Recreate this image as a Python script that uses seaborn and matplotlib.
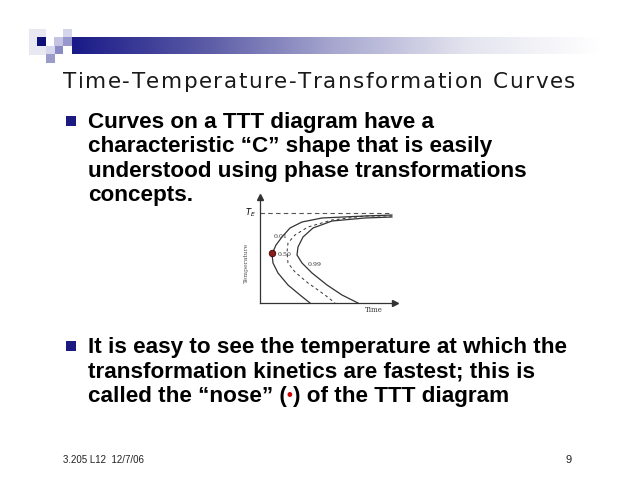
import numpy as np
import pandas as pd
import matplotlib
matplotlib.use("Agg")
import matplotlib.pyplot as plt
import seaborn as sns

# curve data (time units, temperature units; T_E = 90)
t_001 = [132, 105, 62, 42, 30, 22, 16, 12, 13, 18, 28, 40, 50]
T_001 = [88, 87, 85, 81, 75, 66, 58, 49, 40, 30, 18, 8, 0]
t_050 = [132, 105, 72, 48, 35, 28, 27, 28, 35, 48, 65, 75]
T_050 = [87, 87, 83, 76, 68, 60, 51, 40, 31, 20, 8, 0]
t_099 = [132, 105, 72, 53, 43, 38, 37, 42, 52, 67, 82, 98]
T_099 = [86, 85, 82, 75, 66, 56, 48, 40, 30, 18, 8, 0]
T_E = 90
nose = (12, 50)
curve_labels = ["0.01", "0.50", "0.99"]
label_pos = [(14, 67), (18, 49), (48, 38)]

title = "Time-Temperature-Transformation Curves"
bullet1 = ["Curves on a TTT diagram have a",
           "characteristic \u201cC\u201d shape that is easily",
           "understood using phase transformations",
           "concepts."]
bullet2 = ["It is easy to see the temperature at which the",
           "transformation kinetics are fastest; this is"]
bullet2_last = ["called the \u201cnose\u201d (", "\u2022", ") of the TTT diagram"]
footer_left = "3.205 L12  12/7/06"
footer_right = "9"

W, H = 638, 493
fig = plt.figure(figsize=(W / 100, H / 100), dpi=100)
bg = fig.add_axes([0, 0, 1, 1])
bg.axis("off")

# header decoration
squares = [(29, 29, 17, 26, "#e8e8f3"), (37, 37, 9, 9, "#10107a"),
           (54, 37, 9, 9, "#c4c4e2"), (63, 29, 9, 8, "#d4d4ea"),
           (63, 37, 9, 9, "#9898cc"), (46, 46, 9, 8, "#d6d6ec"),
           (55, 46, 8, 8, "#8a8ac4"), (46, 54, 9, 9, "#9c9ccb")]
for x, y, w, h, c in squares:
    bg.add_patch(plt.Rectangle((x, y), w, h, color=c, lw=0))
grad = np.linspace(0, 1, 256)[None, :]
cmap = matplotlib.colors.LinearSegmentedColormap.from_list(
    "bar", [(0, "#1a1a88"), (0.25, "#5a5aa6"), (0.5, "#a8a8d0"),
            (0.75, "#e4e4ef"), (1, "#ffffff")])
bg.imshow(grad, cmap=cmap, extent=(72, 600, 54, 37), aspect="auto")
bg.set_xlim(0, W)
bg.set_ylim(H, 0)

renderer = fig.canvas.get_renderer()

# title with wide letter spacing
x0 = 63
for ch in title:
    t = bg.text(x0, 88, ch, fontsize=15.5, family="DejaVu Sans", color="#1a1a1a")
    x0 += t.get_window_extent(renderer=renderer).width + 1.5

bold = dict(fontsize=16.2, family="Liberation Sans", fontweight="bold", color="black")
navy = "#1a1a80"
for i, line in enumerate(bullet1):
    bg.text(88, 128 + i * 24.3, line, **bold)
bg.add_patch(plt.Rectangle((66, 116), 10, 10, color=navy, lw=0))
for i, line in enumerate(bullet2):
    bg.text(88, 353 + i * 24.3, line, **bold)
bg.add_patch(plt.Rectangle((66, 341), 10, 10, color=navy, lw=0))

x0 = 88
y_last = 353 + 2 * 24.3
for part, col, fs in zip(bullet2_last, ["black", "#cc0000", "black"], [16.2, 12, 16.2]):
    t = bg.text(x0, y_last - (2 if fs < 16 else 0), part,
                **{**bold, "color": col, "fontsize": fs})
    x0 += t.get_window_extent(renderer=renderer).width

bg.text(63, 463, footer_left, fontsize=7, family="Liberation Sans", color="#222222")
bg.text(572, 463, footer_right, fontsize=8, family="Liberation Sans", color="#222222",
        ha="right")

# TTT diagram
ax = fig.add_axes([260 / W, (H - 303) / H, 135 / W, 106 / H])
ax.set_xlim(0, 135)
ax.set_ylim(0, 106)
df = pd.concat([
    pd.DataFrame({"t": t_001, "T": T_001, "f": "0.01"}),
    pd.DataFrame({"t": t_050, "T": T_050, "f": "0.50"}),
    pd.DataFrame({"t": t_099, "T": T_099, "f": "0.99"}),
])
for f, ls, lw in [("0.01", "-", 0.9), ("0.50", (0, (3, 3)), 0.7), ("0.99", "-", 0.9)]:
    sns.lineplot(data=df[df.f == f], x="t", y="T", sort=False, estimator=None,
                 color="#333333", lw=lw, linestyle=ls, ax=ax)
ax.axhline(T_E, xmin=0, xmax=132 / 135, color="#555555", lw=0.8, ls=(0, (4, 3)))
ax.scatter([nose[0]], [nose[1]], s=22, color="#8b1a1a", edgecolor="#400000",
           linewidth=0.6, zorder=5)
for lab, (x, y) in zip(curve_labels, label_pos):
    ax.text(x, y, lab, fontsize=4.5, family="DejaVu Serif", color="#333333", va="center")
ax.text(-4, T_E, "$T_E$", fontsize=6, family="DejaVu Serif", ha="right", va="center")
ax.text(105, -9, "Time", fontsize=5, family="DejaVu Serif", color="#333333")
ax.text(-14, 40, "Temperature", fontsize=4.5, family="DejaVu Serif", color="#555555",
        rotation=90, ha="center", va="center")
for s in ["top", "right"]:
    ax.spines[s].set_visible(False)
for s in ["left", "bottom"]:
    ax.spines[s].set_color("#333333")
    ax.spines[s].set_linewidth(0.9)
ax.set_xticks([])
ax.set_yticks([])
ax.set_xlabel("")
ax.set_ylabel("")
ax.patch.set_alpha(0)
ax.plot(1, 0, ">", transform=ax.transAxes, color="#333333", ms=4, clip_on=False)
ax.plot(0, 1, "^", transform=ax.transAxes, color="#333333", ms=4, clip_on=False)

fig.savefig("out.png", dpi=100)
